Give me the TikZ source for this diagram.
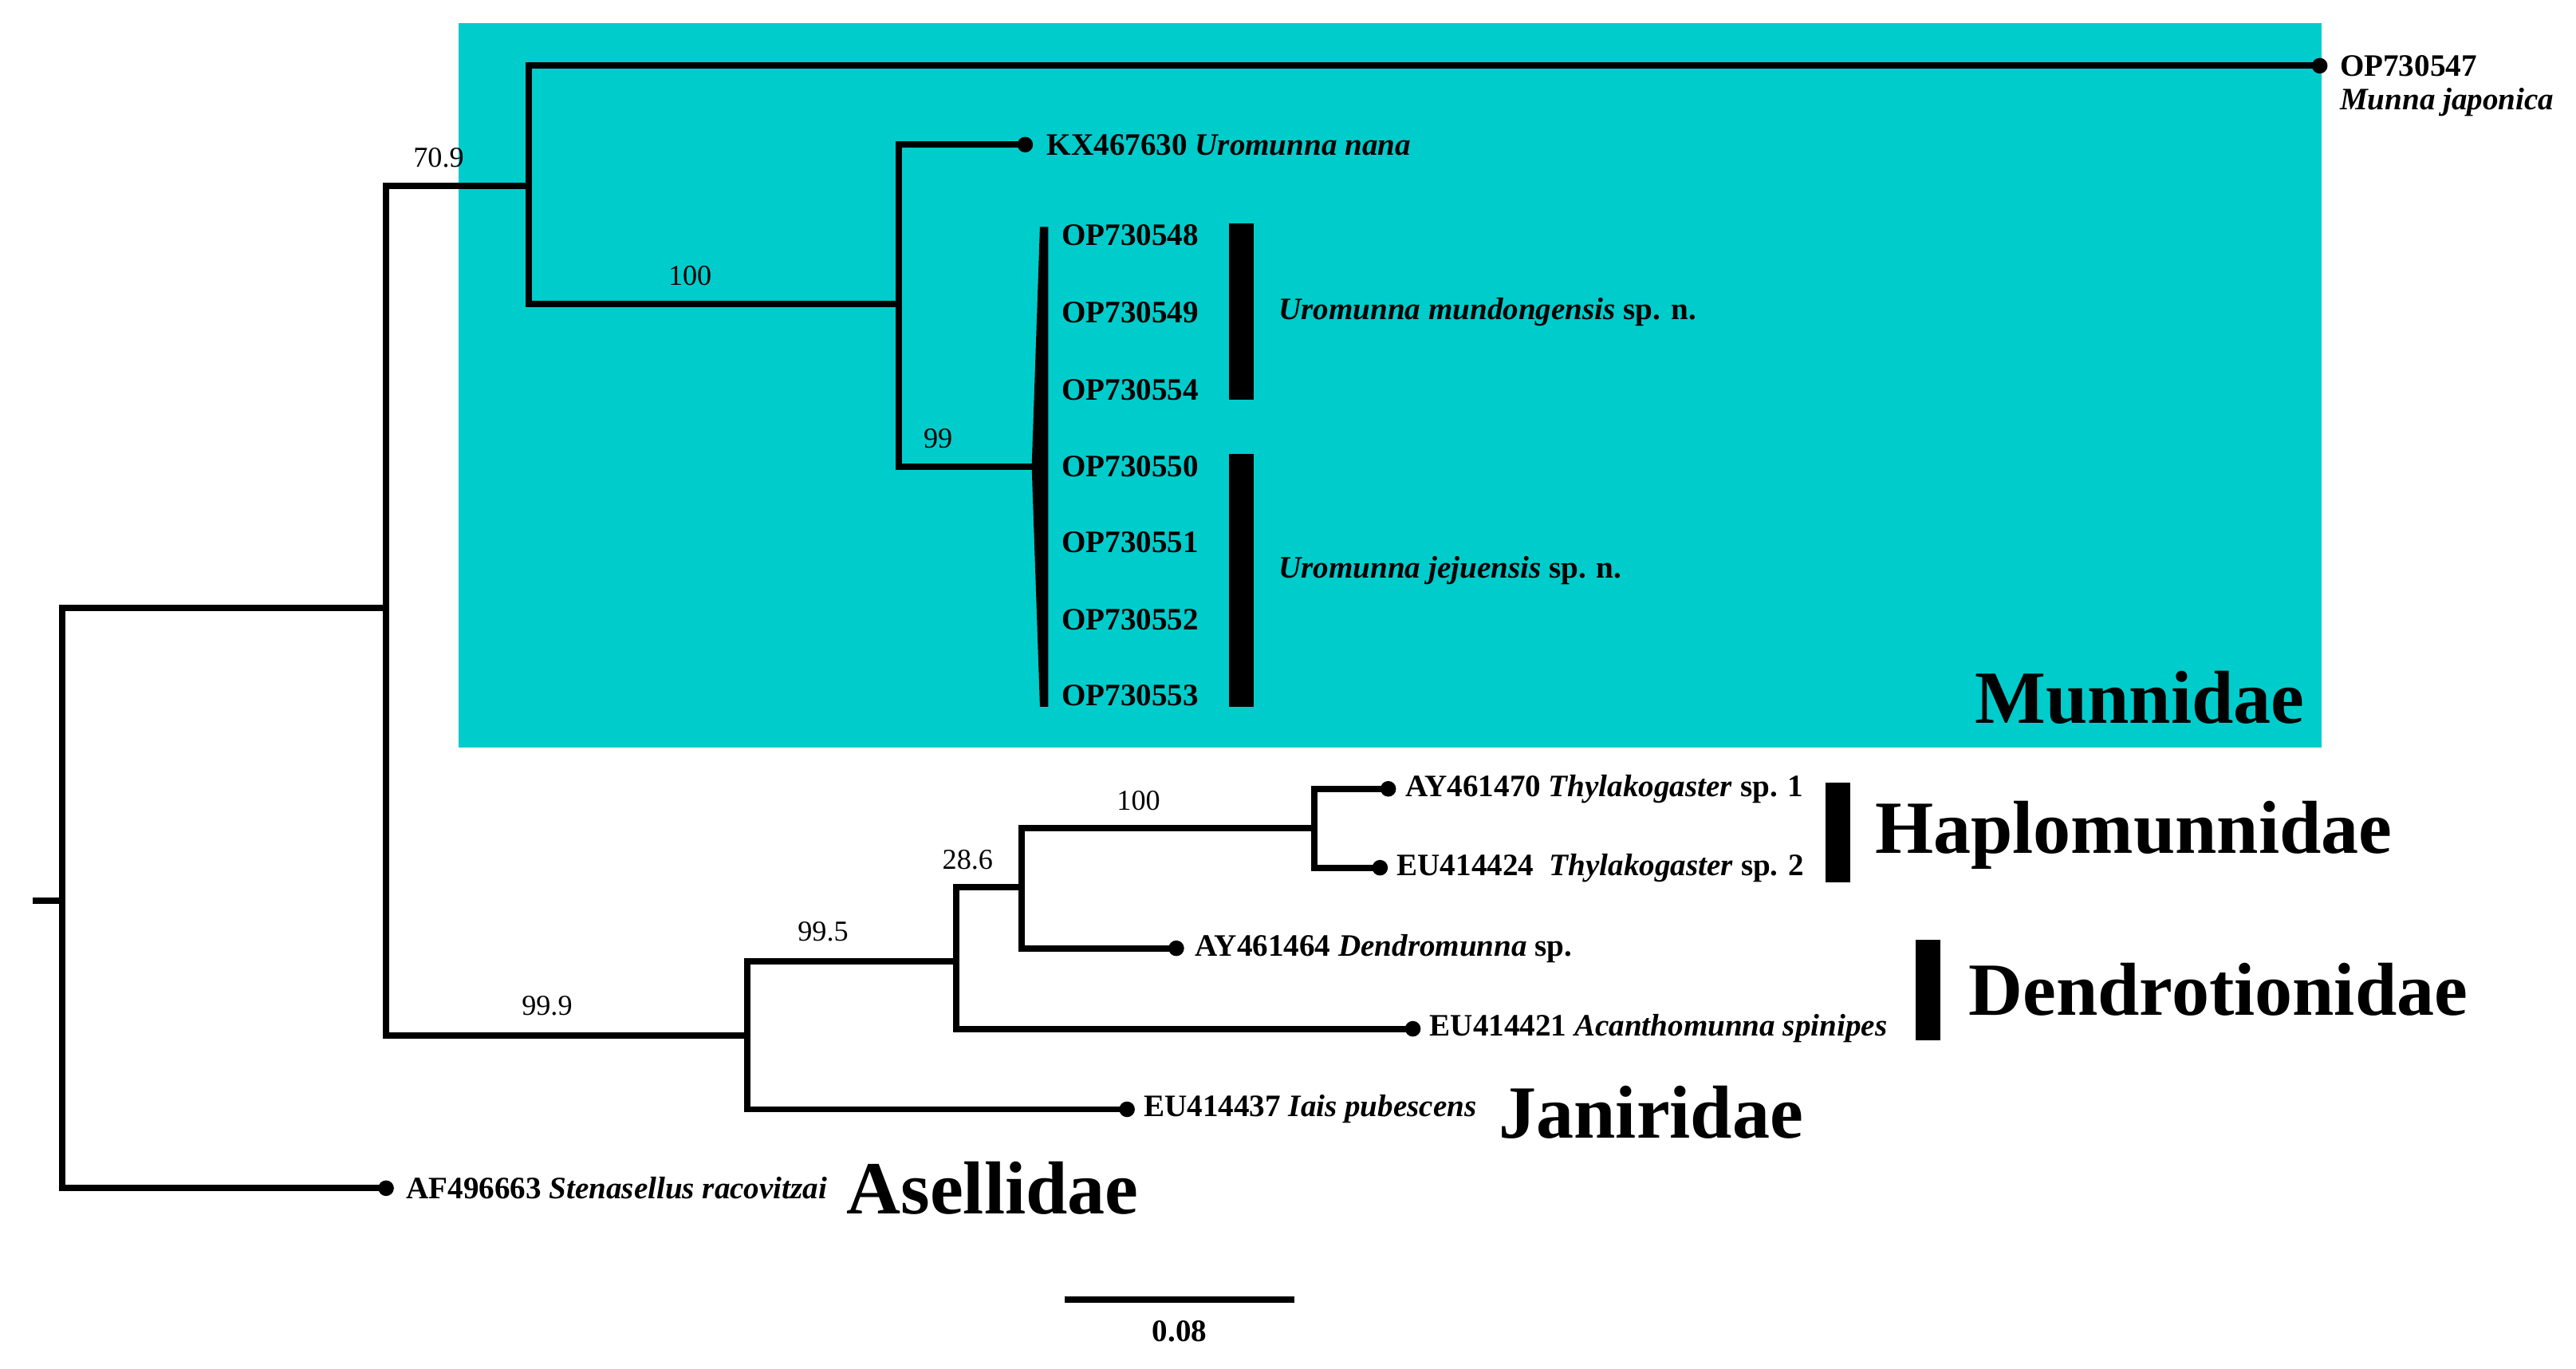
\documentclass[tikz,border=0pt]{standalone}
\usepackage{fontspec}
\setmainfont{Liberation Serif}
\begin{document}
\begin{tikzpicture}[x=0.02cm,y=-0.02cm,
  br/.style={line width=2.2pt,line cap=rect},
  dot/.style={circle,fill=black,inner sep=0pt,minimum size=0.19cm},
  lab/.style={anchor=west,inner sep=0pt,font=\fontsize{10.8}{12}\selectfont\bfseries},
  sup/.style={inner sep=0pt,font=\fontsize{10}{11}\selectfont},
  fam/.style={inner sep=0pt,font=\fontsize{26}{28}\selectfont\bfseries}]
\definecolor{cy}{RGB}{0,204,204}
\useasboundingbox (0,0) rectangle (1568,833);
\fill[cy] (279,14) rectangle (1413,455);
% internal nodes
\coordinate (r0) at (22,548);
\coordinate (r) at (38,548);
\coordinate (rt) at (38,370); \coordinate (rb) at (38,723);
\coordinate (a) at (235,370);
\coordinate (at) at (235,113); \coordinate (ab) at (235,630);
\coordinate (m) at (322,113); \coordinate (mt) at (322,40); \coordinate (mb) at (322,185);
\coordinate (u) at (547,185); \coordinate (ut) at (547,88); \coordinate (ub) at (547,284);
\coordinate (w) at (628,284);
\coordinate (l) at (455,630); \coordinate (lt) at (455,585); \coordinate (lb) at (455,675);
\coordinate (d) at (582,585); \coordinate (dt) at (582,540); \coordinate (db) at (582,626);
\coordinate (e) at (622,540); \coordinate (et) at (622,504); \coordinate (eb) at (622,577);
\coordinate (h) at (800,504); \coordinate (ht) at (800,480); \coordinate (hb) at (800,528);
% leaves
\node[dot] (L1) at (1412,40) {};
\node[dot] (L2) at (624,88) {};
\node[dot] (L3) at (845,480) {};
\node[dot] (L4) at (840,528) {};
\node[dot] (L5) at (716,577) {};
\node[dot] (L6) at (860,626) {};
\node[dot] (L7) at (686,675) {};
\node[dot] (L8) at (235,723) {};
% branches
\draw[br] (r0) -- (r);
\draw[br] (rb) -- (rt) -- (a);
\draw[br] (rb) -- (L8.center);
\draw[br] (ab) -- (at) -- (m);
\draw[br] (mb) -- (mt) -- (L1.center);
\draw[br] (mb) -- (u);
\draw[br] (ub) -- (ut) -- (L2.center);
\draw[br] (ub) -- (w);
\fill (w) -- (633,138) -- (638,138) -- (638,430) -- (633,430) -- cycle;
\draw[br] (ab) -- (l);
\draw[br] (lb) -- (lt) -- (d);
\draw[br] (lb) -- (L7.center);
\draw[br] (db) -- (dt) -- (e);
\draw[br] (db) -- (L6.center);
\draw[br] (eb) -- (et) -- (h);
\draw[br] (eb) -- (L5.center);
\draw[br] (hb) -- (ht) -- (L3.center);
\draw[br] (hb) -- (L4.center);
% supports
\node[sup] (s1) at (267,96) {70.9};
\node[sup] (s2) at (420,168) {100};
\node[sup] (s3) at (571,267) {99};
\node[sup] (s4) at (333,612) {99.9};
\node[sup] (s5) at (501,567) {99.5};
\node[sup] (s6) at (589,523) {28.6};
\node[sup] (s7) at (693,487) {100};
% labels
\node[lab] (t1) at (1424,40) {OP730547};
\node[lab] (t1b) at (1424,62) {\itshape Munna japonica};
\node[lab] (t2) at (637,88) {KX467630 \textit{Uromunna nana}};
\foreach \n/\yy in {OP730548/143,OP730549/190,OP730554/237,OP730550/284,OP730551/330,OP730552/377,OP730553/423}
  \node[lab] at (646,\yy) {\n};
\fill (748,136) rectangle (763,243);
\fill (748,276) rectangle (763,430);
\node[lab] (sp1) at (778,190) {\textit{Uromunna mundongensis} sp. n.};
\node[lab] (sp2) at (778,347) {\textit{Uromunna jejuensis} sp. n.};
\node[fam,anchor=base east] (f1) at (1403,440) {Munnidae};
\node[lab] (t3) at (855,480) {AY461470 \textit{Thylakogaster} sp. 1};
\node[lab] (t4) at (850,528) {EU414424 \ \textit{Thylakogaster} sp. 2};
\node[lab] (t5) at (727,577) {AY461464 \textit{Dendromunna} sp.};
\node[lab] (t6) at (870,626) {EU414421 \textit{Acanthomunna spinipes}};
\node[lab] (t7) at (696,675) {EU414437 \textit{Iais pubescens}};
\node[lab] (t8) at (247,723) {AF496663 \textit{Stenasellus racovitzai}};
\fill (1111,476) rectangle (1126,537);
\fill (1166,572) rectangle (1181,633);
\node[fam,anchor=west] (f2) at (1141,508) {Haplomunnidae};
\node[fam,anchor=west] (f3) at (1198,602) {Dendrotionidae};
\node[fam,anchor=west] (f4) at (912,677) {Janiridae};
\node[fam,anchor=west] (f5) at (515,723) {Asellidae};
% scale
\coordinate (sa) at (648,791); \coordinate (sb) at (788,791);
\draw[line width=2.2pt] (sa) -- (sb);
\node[lab,anchor=center] (sl) at (718,810) {0.08};
\end{tikzpicture}
\end{document}
